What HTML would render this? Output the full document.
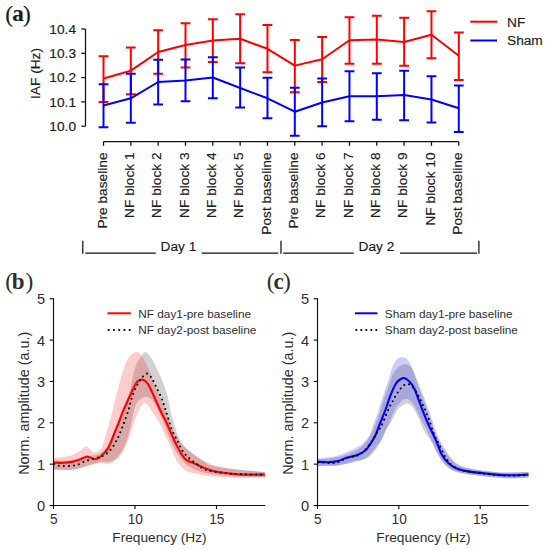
<!DOCTYPE html>
<html><head><meta charset="utf-8"><style>
html,body{margin:0;padding:0;background:#fff;}
svg{display:block;}
text{font-family:"Liberation Sans", sans-serif;fill:#1a1a1a;}
.sa text{stroke:#1a1a1a;stroke-width:0.15px;}
.sb text{fill:#2e2e2e;}
.ser{font-family:"Liberation Serif", serif;font-weight:bold;stroke:none;}
.par{font-family:"Liberation Serif", serif;stroke:none;}
</style></head><body>
<svg width="546" height="550" viewBox="0 0 546 550">
<rect width="546" height="550" fill="#fff"/>

<g class="sa">
<g stroke="#111" stroke-width="1.25" fill="none">
<path d="M85.5 29 V126.2"/>
<path d="M81.3 126.20 H85.5"/>
<path d="M81.3 101.90 H85.5"/>
<path d="M81.3 77.60 H85.5"/>
<path d="M81.3 53.30 H85.5"/>
<path d="M81.3 29.00 H85.5"/>
<path d="M103.5 141.7 H458.79"/>
<path d="M103.50 141.7 V145.8"/>
<path d="M130.83 141.7 V145.8"/>
<path d="M158.16 141.7 V145.8"/>
<path d="M185.49 141.7 V145.8"/>
<path d="M212.82 141.7 V145.8"/>
<path d="M240.15 141.7 V145.8"/>
<path d="M267.48 141.7 V145.8"/>
<path d="M294.81 141.7 V145.8"/>
<path d="M322.14 141.7 V145.8"/>
<path d="M349.47 141.7 V145.8"/>
<path d="M376.80 141.7 V145.8"/>
<path d="M404.13 141.7 V145.8"/>
<path d="M431.46 141.7 V145.8"/>
<path d="M458.79 141.7 V145.8"/>
</g>
<text x="76" y="130.80" font-size="13.7" text-anchor="end">10.0</text>
<text x="76" y="106.50" font-size="13.7" text-anchor="end">10.1</text>
<text x="76" y="82.20" font-size="13.7" text-anchor="end">10.2</text>
<text x="76" y="57.90" font-size="13.7" text-anchor="end">10.3</text>
<text x="76" y="33.60" font-size="13.7" text-anchor="end">10.4</text>
<text transform="translate(40.2 73.5) rotate(-90)" font-size="13.7" text-anchor="middle">IAF (Hz)</text>
<text transform="translate(106.60 152.5) rotate(-90)" font-size="13.7" text-anchor="end">Pre baseline</text>
<text transform="translate(133.93 152.5) rotate(-90)" font-size="13.7" text-anchor="end">NF block 1</text>
<text transform="translate(161.26 152.5) rotate(-90)" font-size="13.7" text-anchor="end">NF block 2</text>
<text transform="translate(188.59 152.5) rotate(-90)" font-size="13.7" text-anchor="end">NF block 3</text>
<text transform="translate(215.92 152.5) rotate(-90)" font-size="13.7" text-anchor="end">NF block 4</text>
<text transform="translate(243.25 152.5) rotate(-90)" font-size="13.7" text-anchor="end">NF block 5</text>
<text transform="translate(270.58 152.5) rotate(-90)" font-size="13.7" text-anchor="end">Post baseline</text>
<text transform="translate(297.91 152.5) rotate(-90)" font-size="13.7" text-anchor="end">Pre baseline</text>
<text transform="translate(325.24 152.5) rotate(-90)" font-size="13.7" text-anchor="end">NF block 6</text>
<text transform="translate(352.57 152.5) rotate(-90)" font-size="13.7" text-anchor="end">NF block 7</text>
<text transform="translate(379.90 152.5) rotate(-90)" font-size="13.7" text-anchor="end">NF block 8</text>
<text transform="translate(407.23 152.5) rotate(-90)" font-size="13.7" text-anchor="end">NF block 9</text>
<text transform="translate(434.56 152.5) rotate(-90)" font-size="13.7" text-anchor="end">NF block 10</text>
<text transform="translate(461.89 152.5) rotate(-90)" font-size="13.7" text-anchor="end">Post baseline</text>
<g stroke="#ff0000" stroke-width="2" fill="none">
<polyline points="103.50,78.50 130.83,70.70 158.16,52.00 185.49,45.00 212.82,40.50 240.15,38.80 267.48,48.80 294.81,65.60 322.14,59.20 349.47,40.30 376.80,39.50 404.13,42.00 431.46,34.70 458.79,55.80" stroke-linejoin="round"/>
<path d="M103.50 56.20 V102.00 M98.60 56.20 H108.40 M98.60 102.00 H108.40"/>
<path d="M130.83 47.50 V94.20 M125.93 47.50 H135.73 M125.93 94.20 H135.73"/>
<path d="M158.16 30.30 V73.80 M153.26 30.30 H163.06 M153.26 73.80 H163.06"/>
<path d="M185.49 23.30 V67.50 M180.59 23.30 H190.39 M180.59 67.50 H190.39"/>
<path d="M212.82 19.20 V62.00 M207.92 19.20 H217.72 M207.92 62.00 H217.72"/>
<path d="M240.15 14.20 V63.30 M235.25 14.20 H245.05 M235.25 63.30 H245.05"/>
<path d="M267.48 25.00 V72.30 M262.58 25.00 H272.38 M262.58 72.30 H272.38"/>
<path d="M294.81 40.00 V92.20 M289.91 40.00 H299.71 M289.91 92.20 H299.71"/>
<path d="M322.14 37.00 V82.10 M317.24 37.00 H327.04 M317.24 82.10 H327.04"/>
<path d="M349.47 17.20 V63.80 M344.57 17.20 H354.37 M344.57 63.80 H354.37"/>
<path d="M376.80 15.80 V63.80 M371.90 15.80 H381.70 M371.90 63.80 H381.70"/>
<path d="M404.13 17.80 V65.80 M399.23 17.80 H409.03 M399.23 65.80 H409.03"/>
<path d="M431.46 11.20 V58.30 M426.56 11.20 H436.36 M426.56 58.30 H436.36"/>
<path d="M458.79 32.50 V80.00 M453.89 32.50 H463.69 M453.89 80.00 H463.69"/>
</g>
<g stroke="#0000ff" stroke-width="2" fill="none">
<polyline points="103.50,105.50 130.83,98.30 158.16,82.00 185.49,80.50 212.82,77.50 240.15,88.00 267.48,98.30 294.81,111.70 322.14,102.50 349.47,96.30 376.80,96.30 404.13,95.00 431.46,99.50 458.79,108.30" stroke-linejoin="round"/>
<path d="M103.50 84.20 V127.20 M98.60 84.20 H108.40 M98.60 127.20 H108.40"/>
<path d="M130.83 73.80 V122.80 M125.93 73.80 H135.73 M125.93 122.80 H135.73"/>
<path d="M158.16 59.70 V104.50 M153.26 59.70 H163.06 M153.26 104.50 H163.06"/>
<path d="M185.49 59.60 V101.30 M180.59 59.60 H190.39 M180.59 101.30 H190.39"/>
<path d="M212.82 57.20 V98.30 M207.92 57.20 H217.72 M207.92 98.30 H217.72"/>
<path d="M240.15 67.50 V107.50 M235.25 67.50 H245.05 M235.25 107.50 H245.05"/>
<path d="M267.48 77.80 V118.30 M262.58 77.80 H272.38 M262.58 118.30 H272.38"/>
<path d="M294.81 87.80 V135.80 M289.91 87.80 H299.71 M289.91 135.80 H299.71"/>
<path d="M322.14 78.50 V126.20 M317.24 78.50 H327.04 M317.24 126.20 H327.04"/>
<path d="M349.47 71.30 V121.20 M344.57 71.30 H354.37 M344.57 121.20 H354.37"/>
<path d="M376.80 73.30 V119.70 M371.90 73.30 H381.70 M371.90 119.70 H381.70"/>
<path d="M404.13 70.80 V120.30 M399.23 70.80 H409.03 M399.23 120.30 H409.03"/>
<path d="M431.46 76.20 V122.50 M426.56 76.20 H436.36 M426.56 122.50 H436.36"/>
<path d="M458.79 85.40 V132.00 M453.89 85.40 H463.69 M453.89 132.00 H463.69"/>
</g>
<path d="M470.3 21.7 H497" stroke="#ff0000" stroke-width="2"/>
<path d="M470.3 40.5 H497" stroke="#0000ff" stroke-width="2"/>
<text x="507" y="26.7" font-size="13.7">NF</text>
<text x="507" y="45.4" font-size="13.7">Sham</text>
<text class="par" x="5.2" y="22" font-size="23.5">(</text><text class="ser" x="12.2" y="21" font-size="23">a</text><text class="par" x="22.9" y="22" font-size="23.5">)</text>
<g stroke="#111" stroke-width="1.25" fill="none">
<path d="M82.8 240.8 V253.7"/>
<path d="M281 240.8 V253.7"/>
<path d="M478.9 240.8 V253.7"/>
<path d="M85.3 253.2 H155.8"/>
<path d="M201.7 253.2 H278.3"/>
<path d="M283.3 253.2 H353.8"/>
<path d="M400 253.2 H477"/>
</g>
<text x="160.6" y="250.8" font-size="13.7">Day 1</text>
<text x="358.5" y="250.8" font-size="13.7">Day 2</text>
</g>
<g class="sb">
<g stroke="#111" stroke-width="1.15" fill="none">
<path d="M53.5 298.3 V505.5 H265.2"/>
<path d="M49.70 505.50 H53.5"/>
<path d="M49.70 464.15 H53.5"/>
<path d="M49.70 422.80 H53.5"/>
<path d="M49.70 381.45 H53.5"/>
<path d="M49.70 340.10 H53.5"/>
<path d="M49.70 298.75 H53.5"/>
<path d="M53.50 505.5 V509"/>
<path d="M135.00 505.5 V509"/>
<path d="M216.50 505.5 V509"/>
</g>
<text x="45.00" y="510.90" font-size="14.6" text-anchor="end">0</text>
<text x="45.00" y="469.55" font-size="14.6" text-anchor="end">1</text>
<text x="45.00" y="428.20" font-size="14.6" text-anchor="end">2</text>
<text x="45.00" y="386.85" font-size="14.6" text-anchor="end">3</text>
<text x="45.00" y="345.50" font-size="14.6" text-anchor="end">4</text>
<text x="45.00" y="304.15" font-size="14.6" text-anchor="end">5</text>
<text transform="translate(53.80 523.9) scale(1 1.08)" font-size="13.7" text-anchor="middle">5</text>
<text transform="translate(135.30 523.9) scale(1 1.08)" font-size="13.7" text-anchor="middle">10</text>
<text transform="translate(216.80 523.9) scale(1 1.08)" font-size="13.7" text-anchor="middle">15</text>
<text x="159.50" y="541.8" font-size="13.7" text-anchor="middle">Frequency (Hz)</text>
<text transform="translate(28.6 403.2) rotate(-90)" font-size="14.4" text-anchor="middle">Norm. amplitude (a.u.)</text>
<text class="par" x="5.2" y="289.4" font-size="23.5">(</text><text class="ser" x="11.8" y="288.5" font-size="23">b</text><text class="par" x="25.4" y="289.4" font-size="23.5">)</text>
<g stroke="#111" stroke-width="1.15" fill="none">
<path d="M317.5 298.3 V505.5 H528.6"/>
<path d="M313.70 505.50 H317.5"/>
<path d="M313.70 464.15 H317.5"/>
<path d="M313.70 422.80 H317.5"/>
<path d="M313.70 381.45 H317.5"/>
<path d="M313.70 340.10 H317.5"/>
<path d="M313.70 298.75 H317.5"/>
<path d="M317.50 505.5 V509"/>
<path d="M398.85 505.5 V509"/>
<path d="M480.20 505.5 V509"/>
</g>
<text x="309.00" y="510.90" font-size="14.6" text-anchor="end">0</text>
<text x="309.00" y="469.55" font-size="14.6" text-anchor="end">1</text>
<text x="309.00" y="428.20" font-size="14.6" text-anchor="end">2</text>
<text x="309.00" y="386.85" font-size="14.6" text-anchor="end">3</text>
<text x="309.00" y="345.50" font-size="14.6" text-anchor="end">4</text>
<text x="309.00" y="304.15" font-size="14.6" text-anchor="end">5</text>
<text transform="translate(317.80 523.9) scale(1 1.08)" font-size="13.7" text-anchor="middle">5</text>
<text transform="translate(399.15 523.9) scale(1 1.08)" font-size="13.7" text-anchor="middle">10</text>
<text transform="translate(480.50 523.9) scale(1 1.08)" font-size="13.7" text-anchor="middle">15</text>
<text x="423.50" y="541.8" font-size="13.7" text-anchor="middle">Frequency (Hz)</text>
<text transform="translate(292.6 403.2) rotate(-90)" font-size="14.4" text-anchor="middle">Norm. amplitude (a.u.)</text>
<text class="par" x="266.8" y="289.4" font-size="23.5">(</text><text class="ser" x="273.40000000000003" y="288.5" font-size="23">c</text><text class="par" x="282.90000000000003" y="289.4" font-size="23.5">)</text>
<path d="M107.5 313.3 H130.8" stroke="#ff0000" stroke-width="2"/>
<path d="M108.7 330 H131" stroke="#000" stroke-width="2.2" stroke-linecap="round" stroke-dasharray="0 5.25"/>
<text x="138.3" y="317.6" font-size="11.8">NF day1-pre baseline</text>
<text x="138.3" y="334.3" font-size="11.8">NF day2-post baseline</text>
<path d="M355 313.3 H377.5" stroke="#0000ff" stroke-width="2"/>
<path d="M356.3 330 H378" stroke="#000" stroke-width="2.2" stroke-linecap="round" stroke-dasharray="0 5"/>
<text x="384.8" y="317.6" font-size="11.8">Sham day1-pre baseline</text>
<text x="384.8" y="334.3" font-size="11.8">Sham day2-post baseline</text>
</g>
<g>
<path d="M53.40 460.50 C55.12 460.55 60.43 460.83 63.70 460.80 C66.97 460.77 70.28 460.63 73.00 460.30 C75.72 459.97 77.50 459.43 80.00 458.80 C82.50 458.17 85.50 457.10 88.00 456.50 C90.50 455.90 93.00 455.70 95.00 455.20 C97.00 454.70 98.33 454.45 100.00 453.50 C101.67 452.55 103.33 451.42 105.00 449.50 C106.67 447.58 108.67 444.58 110.00 442.00 C111.33 439.42 111.83 437.00 113.00 434.00 C114.17 431.00 115.67 427.33 117.00 424.00 C118.33 420.67 119.67 417.33 121.00 414.00 C122.33 410.67 123.75 407.17 125.00 404.00 C126.25 400.83 127.53 397.83 128.50 395.00 C129.47 392.17 130.05 390.17 130.80 387.00 C131.55 383.83 132.10 379.72 133.00 376.00 C133.90 372.28 134.82 368.05 136.20 364.70 C137.58 361.35 139.78 358.02 141.30 355.90 C142.82 353.78 143.87 351.98 145.30 352.00 C146.73 352.02 148.45 354.17 149.90 356.00 C151.35 357.83 152.62 360.42 154.00 363.00 C155.38 365.58 156.87 368.67 158.20 371.50 C159.53 374.33 160.87 377.25 162.00 380.00 C163.13 382.75 164.00 385.08 165.00 388.00 C166.00 390.92 167.03 393.50 168.00 397.50 C168.97 401.50 169.67 407.25 170.80 412.00 C171.93 416.75 173.55 422.00 174.80 426.00 C176.05 430.00 176.85 432.83 178.30 436.00 C179.75 439.17 181.55 442.42 183.50 445.00 C185.45 447.58 187.07 449.02 190.00 451.50 C192.93 453.98 197.17 457.47 201.10 459.90 C205.03 462.33 207.45 464.45 213.60 466.10 C219.75 467.75 229.47 468.82 238.00 469.80 C246.53 470.78 260.33 471.63 264.80 472.00 L264.80 477.20 C260.33 477.08 246.53 476.95 238.00 476.50 C229.47 476.05 219.93 475.33 213.60 474.50 C207.27 473.67 203.93 472.75 200.00 471.50 C196.07 470.25 192.83 468.75 190.00 467.00 C187.17 465.25 185.17 463.33 183.00 461.00 C180.83 458.67 178.83 455.83 177.00 453.00 C175.17 450.17 173.67 447.50 172.00 444.00 C170.33 440.50 168.50 435.83 167.00 432.00 C165.50 428.17 164.50 424.67 163.00 421.00 C161.50 417.33 159.78 413.42 158.00 410.00 C156.22 406.58 154.38 402.72 152.30 400.50 C150.22 398.28 147.72 396.70 145.50 396.70 C143.28 396.70 140.77 398.78 139.00 400.50 C137.23 402.22 136.20 403.13 134.90 407.00 C133.60 410.87 132.65 417.80 131.20 423.70 C129.75 429.60 128.48 436.80 126.20 442.40 C123.92 448.00 120.20 454.08 117.50 457.30 C114.80 460.52 112.92 460.92 110.00 461.70 C107.08 462.48 103.90 461.33 100.00 462.00 C96.10 462.67 91.12 464.47 86.60 465.70 C82.08 466.93 78.43 468.78 72.90 469.40 C67.37 470.02 56.65 469.40 53.40 469.40 Z" fill="#000" fill-opacity="0.18"/>
<path d="M53.40 457.90 C55.12 457.75 60.45 457.53 63.70 457.00 C66.95 456.47 70.15 455.70 72.90 454.70 C75.65 453.70 78.07 452.37 80.20 451.00 C82.33 449.63 84.02 446.80 85.70 446.50 C87.38 446.20 89.08 448.28 90.30 449.20 C91.52 450.12 91.88 451.50 93.00 452.00 C94.12 452.50 95.83 452.53 97.00 452.20 C98.17 451.87 99.00 451.28 100.00 450.00 C101.00 448.72 101.97 447.33 103.00 444.50 C104.03 441.67 104.95 437.25 106.20 433.00 C107.45 428.75 108.83 425.33 110.50 419.00 C112.17 412.67 114.97 399.83 116.20 395.00 C117.43 390.17 117.02 393.23 117.90 390.00 C118.78 386.77 120.03 380.43 121.50 375.60 C122.97 370.77 125.12 364.43 126.70 361.00 C128.28 357.57 129.55 356.47 131.00 355.00 C132.45 353.53 133.90 352.37 135.40 352.20 C136.90 352.03 138.00 351.67 140.00 354.00 C142.00 356.33 145.13 361.47 147.40 366.20 C149.67 370.93 151.53 377.22 153.60 382.40 C155.67 387.58 157.93 392.73 159.80 397.30 C161.67 401.87 163.27 406.02 164.80 409.80 C166.33 413.58 167.47 416.30 169.00 420.00 C170.53 423.70 172.17 428.33 174.00 432.00 C175.83 435.67 177.83 439.08 180.00 442.00 C182.17 444.92 184.50 447.33 187.00 449.50 C189.50 451.67 192.00 453.08 195.00 455.00 C198.00 456.92 201.67 459.25 205.00 461.00 C208.33 462.75 209.50 464.08 215.00 465.50 C220.50 466.92 229.70 468.42 238.00 469.50 C246.30 470.58 260.33 471.58 264.80 472.00 L264.80 477.60 C260.33 477.65 246.53 478.05 238.00 477.90 C229.47 477.75 220.78 477.43 213.60 476.70 C206.42 475.97 199.47 474.43 194.90 473.50 C190.33 472.57 189.10 472.97 186.20 471.10 C183.30 469.23 179.87 465.82 177.50 462.30 C175.13 458.78 173.70 453.73 172.00 450.00 C170.30 446.27 169.33 444.28 167.30 439.90 C165.27 435.52 162.18 428.18 159.80 423.70 C157.42 419.22 154.97 416.03 153.00 413.00 C151.03 409.97 149.57 407.18 148.00 405.50 C146.43 403.82 145.05 402.18 143.60 402.90 C142.15 403.62 140.75 406.95 139.30 409.80 C137.85 412.65 136.67 415.20 134.90 420.00 C133.13 424.80 130.98 432.80 128.70 438.60 C126.42 444.40 124.32 450.65 121.20 454.80 C118.08 458.95 113.53 462.13 110.00 463.50 C106.47 464.87 103.90 462.50 100.00 463.00 C96.10 463.50 91.12 465.37 86.60 466.50 C82.08 467.63 78.43 469.25 72.90 469.80 C67.37 470.35 56.65 469.80 53.40 469.80 Z" fill="#ff0000" fill-opacity="0.2"/>
<path d="M53.70 462.50 C55.37 462.55 60.50 462.95 63.70 462.80 C66.90 462.65 70.15 462.18 72.90 461.60 C75.65 461.02 77.98 460.12 80.20 459.30 C82.42 458.48 84.52 457.00 86.20 456.70 C87.88 456.40 88.85 457.07 90.30 457.50 C91.75 457.93 93.28 459.38 94.90 459.30 C96.52 459.22 97.85 458.78 100.00 457.00 C102.15 455.22 105.43 452.48 107.80 448.60 C110.17 444.72 112.45 437.85 114.20 433.70 C115.95 429.55 116.90 427.28 118.30 423.70 C119.70 420.12 121.15 415.77 122.60 412.20 C124.05 408.63 125.02 406.68 127.00 402.30 C128.98 397.92 132.67 389.45 134.50 385.90 C136.33 382.35 136.78 382.05 138.00 381.00 C139.22 379.95 140.63 379.62 141.80 379.60 C142.97 379.58 143.97 380.13 145.00 380.90 C146.03 381.67 147.00 382.72 148.00 384.20 C149.00 385.68 149.58 386.83 151.00 389.80 C152.42 392.77 154.67 397.97 156.50 402.00 C158.33 406.03 160.53 411.00 162.00 414.00 C163.47 417.00 164.02 417.33 165.30 420.00 C166.58 422.67 168.33 426.90 169.70 430.00 C171.07 433.10 172.28 435.93 173.50 438.60 C174.72 441.27 175.72 443.50 177.00 446.00 C178.28 448.50 179.67 451.28 181.20 453.60 C182.73 455.92 183.92 458.23 186.20 459.90 C188.48 461.57 191.37 462.05 194.90 463.60 C198.43 465.15 203.25 467.75 207.40 469.20 C211.55 470.65 214.70 471.43 219.80 472.30 C224.90 473.17 230.50 474.02 238.00 474.40 C245.50 474.78 260.33 474.57 264.80 474.60" fill="none" stroke="#ff0000" stroke-width="2.1"/>
<path d="M54.10 463.90 C54.90 464.20 57.27 465.35 58.90 465.70 C60.53 466.05 62.22 465.95 63.90 466.00 C65.58 466.05 67.32 466.08 69.00 466.00 C70.68 465.92 72.37 465.80 74.00 465.50 C75.63 465.20 77.23 464.78 78.80 464.20 C80.37 463.62 81.87 462.67 83.40 462.00 C84.93 461.33 86.47 460.73 88.00 460.20 C89.53 459.67 91.00 459.25 92.60 458.80 C94.20 458.35 95.98 457.95 97.60 457.50 C99.22 457.05 100.78 456.75 102.30 456.10 C103.82 455.45 105.35 454.63 106.70 453.60 C108.05 452.57 109.30 451.13 110.40 449.90 C111.50 448.67 112.40 447.55 113.30 446.20 C114.20 444.85 115.00 443.27 115.80 441.80 C116.60 440.33 116.78 440.42 118.10 437.40 C119.42 434.38 121.93 428.42 123.70 423.70 C125.47 418.98 127.45 413.08 128.70 409.10 C129.95 405.12 130.17 403.02 131.20 399.80 C132.23 396.58 133.52 392.92 134.90 389.80 C136.28 386.68 137.65 383.77 139.50 381.10 C141.35 378.43 144.23 374.65 146.00 373.80 C147.77 372.95 148.93 374.88 150.10 376.00 C151.27 377.12 151.80 378.30 153.00 380.50 C154.20 382.70 155.85 386.20 157.30 389.20 C158.75 392.20 160.45 395.45 161.70 398.50 C162.95 401.55 163.77 404.33 164.80 407.50 C165.83 410.67 166.87 414.18 167.90 417.50 C168.93 420.82 169.85 424.30 171.00 427.40 C172.15 430.50 173.72 433.83 174.80 436.10 C175.88 438.37 176.33 438.70 177.50 441.00 C178.67 443.30 180.03 447.17 181.80 449.90 C183.57 452.63 185.70 455.12 188.10 457.40 C190.50 459.68 193.52 461.63 196.20 463.60 C198.88 465.57 201.20 467.85 204.20 469.20 C207.20 470.55 210.15 470.98 214.20 471.70 C218.25 472.42 224.53 473.08 228.50 473.50 C232.47 473.92 232.03 474.00 238.00 474.20 C243.97 474.40 259.92 474.62 264.30 474.70" fill="none" stroke="#000" stroke-width="2.1" stroke-linecap="round" stroke-dasharray="0 5.05"/>
<path d="M317.40 459.50 C320.20 459.22 329.25 458.62 334.20 457.80 C339.15 456.98 342.82 456.23 347.10 454.60 C351.38 452.97 356.62 450.27 359.90 448.00 C363.18 445.73 364.87 443.50 366.80 441.00 C368.73 438.50 370.13 435.67 371.50 433.00 C372.87 430.33 373.83 427.83 375.00 425.00 C376.17 422.17 377.08 420.17 378.50 416.00 C379.92 411.83 381.75 405.17 383.50 400.00 C385.25 394.83 387.42 389.33 389.00 385.00 C390.58 380.67 391.67 376.75 393.00 374.00 C394.33 371.25 395.58 370.00 397.00 368.50 C398.42 367.00 399.97 365.72 401.50 365.00 C403.03 364.28 404.70 363.95 406.20 364.20 C407.70 364.45 409.20 365.20 410.50 366.50 C411.80 367.80 412.58 369.08 414.00 372.00 C415.42 374.92 417.17 379.43 419.00 384.00 C420.83 388.57 423.00 394.07 425.00 399.40 C427.00 404.73 429.08 410.50 431.00 416.00 C432.92 421.50 434.83 428.07 436.50 432.40 C438.17 436.73 439.25 438.73 441.00 442.00 C442.75 445.27 445.00 449.00 447.00 452.00 C449.00 455.00 450.83 457.75 453.00 460.00 C455.17 462.25 457.17 464.08 460.00 465.50 C462.83 466.92 463.67 467.37 470.00 468.50 C476.33 469.63 490.85 471.65 498.00 472.30 C505.15 472.95 507.82 472.48 512.90 472.40 C517.98 472.32 525.90 471.90 528.50 471.80 L528.50 477.80 C525.90 477.88 517.98 478.32 512.90 478.30 C507.82 478.28 503.48 478.08 498.00 477.70 C492.52 477.32 486.33 476.78 480.00 476.00 C473.67 475.22 465.00 474.17 460.00 473.00 C455.00 471.83 452.83 470.75 450.00 469.00 C447.17 467.25 445.17 465.17 443.00 462.50 C440.83 459.83 438.78 456.17 437.00 453.00 C435.22 449.83 434.50 447.33 432.30 443.50 C430.10 439.67 426.18 434.40 423.80 430.00 C421.42 425.60 419.83 420.83 418.00 417.10 C416.17 413.37 414.63 409.85 412.80 407.60 C410.97 405.35 409.00 403.73 407.00 403.60 C405.00 403.47 402.38 405.73 400.80 406.80 C399.22 407.87 398.43 408.77 397.50 410.00 C396.57 411.23 396.42 411.92 395.20 414.20 C393.98 416.48 391.73 421.07 390.20 423.70 C388.67 426.33 387.40 427.28 386.00 430.00 C384.60 432.72 383.13 437.25 381.80 440.00 C380.47 442.75 379.47 444.33 378.00 446.50 C376.53 448.67 375.00 450.97 373.00 453.00 C371.00 455.03 369.25 457.23 366.00 458.70 C362.75 460.17 358.15 460.70 353.50 461.80 C348.85 462.90 344.12 464.60 338.10 465.30 C332.08 466.00 320.85 465.88 317.40 466.00 Z" fill="#000" fill-opacity="0.18"/>
<path d="M317.40 458.50 C320.20 458.17 329.25 457.58 334.20 456.50 C339.15 455.42 342.82 453.82 347.10 452.00 C351.38 450.18 356.75 447.60 359.90 445.60 C363.05 443.60 364.20 442.20 366.00 440.00 C367.80 437.80 369.45 435.07 370.70 432.40 C371.95 429.73 372.53 426.73 373.50 424.00 C374.47 421.27 375.12 420.10 376.50 416.00 C377.88 411.90 379.97 404.90 381.80 399.40 C383.63 393.90 385.92 387.90 387.50 383.00 C389.08 378.10 390.22 373.25 391.30 370.00 C392.38 366.75 393.05 365.28 394.00 363.50 C394.95 361.72 396.00 360.28 397.00 359.30 C398.00 358.32 399.00 357.93 400.00 357.60 C401.00 357.27 402.00 357.18 403.00 357.30 C404.00 357.42 405.00 357.60 406.00 358.30 C407.00 359.00 408.08 360.22 409.00 361.50 C409.92 362.78 410.58 363.75 411.50 366.00 C412.42 368.25 413.33 371.50 414.50 375.00 C415.67 378.50 417.02 382.93 418.50 387.00 C419.98 391.07 421.62 394.57 423.40 399.40 C425.18 404.23 427.27 410.50 429.20 416.00 C431.13 421.50 433.37 428.23 435.00 432.40 C436.63 436.57 437.67 438.40 439.00 441.00 C440.33 443.60 441.33 445.33 443.00 448.00 C444.67 450.67 447.00 454.50 449.00 457.00 C451.00 459.50 452.67 461.33 455.00 463.00 C457.33 464.67 458.83 465.75 463.00 467.00 C467.17 468.25 474.17 469.62 480.00 470.50 C485.83 471.38 492.52 471.95 498.00 472.30 C503.48 472.65 507.82 472.65 512.90 472.60 C517.98 472.55 525.90 472.10 528.50 472.00 L528.50 477.50 C525.90 477.63 517.98 478.30 512.90 478.30 C507.82 478.30 503.48 477.97 498.00 477.50 C492.52 477.03 486.33 476.33 480.00 475.50 C473.67 474.67 465.00 473.67 460.00 472.50 C455.00 471.33 452.83 470.25 450.00 468.50 C447.17 466.75 445.17 464.75 443.00 462.00 C440.83 459.25 438.78 455.33 437.00 452.00 C435.22 448.67 434.30 446.23 432.30 442.00 C430.30 437.77 427.38 431.37 425.00 426.60 C422.62 421.83 420.03 417.30 418.00 413.40 C415.97 409.50 414.77 405.63 412.80 403.20 C410.83 400.77 408.30 398.92 406.20 398.80 C404.10 398.68 402.20 400.47 400.20 402.50 C398.20 404.53 395.97 407.75 394.20 411.00 C392.43 414.25 391.00 418.83 389.60 422.00 C388.20 425.17 387.23 427.00 385.80 430.00 C384.37 433.00 382.47 437.42 381.00 440.00 C379.53 442.58 378.50 443.50 377.00 445.50 C375.50 447.50 373.98 449.83 372.00 452.00 C370.02 454.17 368.18 456.83 365.10 458.50 C362.02 460.17 358.00 460.83 353.50 462.00 C349.00 463.17 344.12 464.80 338.10 465.50 C332.08 466.20 320.85 466.08 317.40 466.20 Z" fill="#0000ff" fill-opacity="0.2"/>
<path d="M317.60 461.70 C319.30 461.80 324.38 462.42 327.80 462.30 C331.22 462.18 334.88 461.78 338.10 461.00 C341.32 460.22 343.90 458.62 347.10 457.60 C350.30 456.58 354.32 456.03 357.30 454.90 C360.28 453.77 362.87 452.55 365.00 450.80 C367.13 449.05 368.40 446.90 370.10 444.40 C371.80 441.90 373.75 438.80 375.20 435.80 C376.65 432.80 377.10 430.70 378.80 426.40 C380.50 422.10 383.77 414.32 385.40 410.00 C387.03 405.68 387.52 403.53 388.60 400.50 C389.68 397.47 390.62 394.72 391.90 391.80 C393.18 388.88 394.95 385.05 396.30 383.00 C397.65 380.95 398.65 380.32 400.00 379.50 C401.35 378.68 402.75 377.68 404.40 378.10 C406.05 378.52 408.25 380.25 409.90 382.00 C411.55 383.75 412.93 385.85 414.30 388.60 C415.67 391.35 416.77 395.02 418.10 398.50 C419.43 401.98 421.03 406.22 422.30 409.50 C423.57 412.78 424.67 415.67 425.70 418.20 C426.73 420.73 427.28 422.07 428.50 424.70 C429.72 427.33 431.50 430.78 433.00 434.00 C434.50 437.22 436.00 440.50 437.50 444.00 C439.00 447.50 440.15 451.78 442.00 455.00 C443.85 458.22 446.40 461.17 448.60 463.30 C450.80 465.43 452.63 466.58 455.20 467.80 C457.77 469.02 458.88 469.65 464.00 470.60 C469.12 471.55 478.58 472.72 485.90 473.50 C493.22 474.28 500.80 475.12 507.90 475.30 C515.00 475.48 525.07 474.72 528.50 474.60" fill="none" stroke="#0000ff" stroke-width="2.1"/>
<path d="M318.50 462.20 C319.20 462.22 321.22 462.18 322.70 462.30 C324.18 462.42 325.80 462.75 327.40 462.90 C329.00 463.05 330.63 463.30 332.30 463.20 C333.97 463.10 335.80 462.77 337.40 462.30 C339.00 461.83 340.40 461.10 341.90 460.40 C343.40 459.70 344.80 458.68 346.40 458.10 C348.00 457.52 349.90 457.27 351.50 456.90 C353.10 456.53 354.50 456.38 356.00 455.90 C357.50 455.42 359.10 454.85 360.50 454.00 C361.90 453.15 363.22 451.98 364.40 450.80 C365.58 449.62 366.53 448.18 367.60 446.90 C368.67 445.62 369.73 444.60 370.80 443.10 C371.87 441.60 373.05 439.50 374.00 437.90 C374.95 436.30 375.65 434.88 376.50 433.50 C377.35 432.12 378.23 431.00 379.10 429.60 C379.97 428.20 379.97 428.85 381.70 425.10 C383.43 421.35 387.80 410.83 389.50 407.10 C391.20 403.37 391.13 404.15 391.90 402.70 C392.67 401.25 393.28 399.85 394.10 398.40 C394.92 396.95 395.88 395.43 396.80 394.00 C397.72 392.57 398.58 391.13 399.60 389.80 C400.62 388.47 401.62 387.00 402.90 386.00 C404.18 385.00 405.85 383.80 407.30 383.80 C408.75 383.80 410.35 385.02 411.60 386.00 C412.85 386.98 413.83 388.35 414.80 389.70 C415.77 391.05 416.57 392.60 417.40 394.10 C418.23 395.60 419.03 397.20 419.80 398.70 C420.57 400.20 421.27 401.58 422.00 403.10 C422.73 404.62 423.50 406.23 424.20 407.80 C424.90 409.37 425.57 410.98 426.20 412.50 C426.83 414.02 427.40 415.35 428.00 416.90 C428.60 418.45 428.67 418.60 429.80 421.80 C430.93 425.00 433.32 432.45 434.80 436.10 C436.28 439.75 437.00 440.30 438.70 443.70 C440.40 447.10 443.12 453.18 445.00 456.50 C446.88 459.82 448.17 461.68 450.00 463.60 C451.83 465.52 453.67 466.80 456.00 468.00 C458.33 469.20 459.00 469.80 464.00 470.80 C469.00 471.80 478.67 473.20 486.00 474.00 C493.33 474.80 501.00 475.43 508.00 475.60 C515.00 475.77 524.67 475.10 528.00 475.00" fill="none" stroke="#000" stroke-width="2.1" stroke-linecap="round" stroke-dasharray="0 5.05"/>
</g>
</svg></body></html>
